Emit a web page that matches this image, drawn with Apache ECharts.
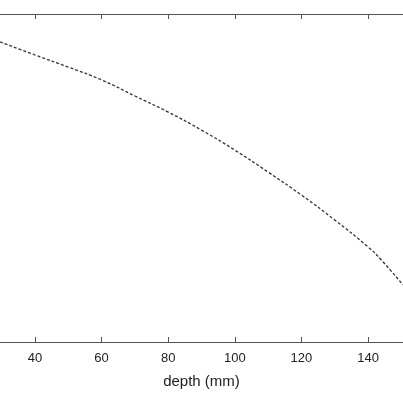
<!DOCTYPE html><html><head><meta charset="utf-8">
<script src="https://cdn.jsdelivr.net/npm/echarts@6/dist/echarts.min.js"></script>
<style>html,body{margin:0;background:#fff}#c{width:403px;height:403px}</style></head><body><div id="c"></div>
<script>
const depth = [29.5, 40, 50, 60, 70, 80, 90, 100, 110, 120, 130, 140, 144, 150.5];
const values = [0.915, 0.875, 0.838, 0.799, 0.75, 0.701, 0.646, 0.585, 0.518, 0.448, 0.372, 0.29, 0.25, 0.174];
const tickValues = [40, 60, 80, 100, 120, 140];
const chart = echarts.init(document.getElementById('c'));
const font = {fontFamily:'Liberation Sans', color:'#222', fontSize:13};
chart.setOption({
  animation:false,
  grid:{left:0, right:0, top:14, bottom:61},
  xAxis:[{type:'value', min:29.5, max:150.5, position:'bottom',
    name:'depth (mm)', nameLocation:'middle', nameGap:32, nameTextStyle:{...font, fontSize:15},
    axisLine:{lineStyle:{color:'#555'}}, axisTick:{inside:true, length:5, customValues:tickValues, lineStyle:{color:'#555'}},
    axisLabel:{...font, margin:10, customValues:tickValues}, splitLine:{show:false}},
   {type:'value', min:29.5, max:150.5, position:'top',
    axisLine:{lineStyle:{color:'#555'}}, axisTick:{inside:true, length:5, customValues:tickValues, lineStyle:{color:'#555'}},
    axisLabel:{show:false}, splitLine:{show:false}}],
  yAxis:{type:'value', min:0, max:1, show:false},
  series:[{type:'line', data:depth.map((d,i)=>[d,values[i]]), smooth:true, symbol:'none',
    lineStyle:{color:'#333', width:1.3, type:[3,2]}}]
});
</script></body></html>
